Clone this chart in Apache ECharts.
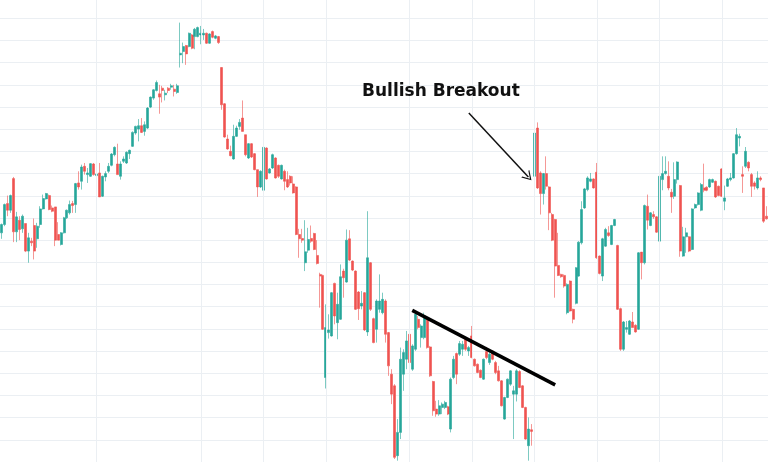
<!DOCTYPE html>
<html>
<head>
<meta charset="utf-8">
<script src="https://cdn.jsdelivr.net/npm/echarts@6/dist/echarts.min.js"></script>
<style>
html,body{margin:0;padding:0;background:#ffffff;}
#chart{width:768px;height:462px;}
</style>
</head>
<body>
<div id="chart"></div>
<script>
// price units: 1 grid step = 66.69
const opens = [
689,714,777,757,852,692,727,701,717,634,664,711,671,714,761,791,801,764,767,684,
654,689,734,749,777,774,839,844,889,864,859,896,861,869,799,857,874,892,924,896,
859,904,899,927,949,989,1001,1011,994,1004,1067,1094,1117,1107,1124,1104,1124,1127,1121,1111,
1224,1234,1252,1249,1284,1279,1279,1284,1284,1289,1259,1294,1274,1279,1186,1077,971,934,911,979,
1009,1034,984,914,957,927,879,827,817,944,869,884,914,892,851,874,849,859,836,827,
684,672,599,637,672,687,621,564,561,254,389,379,537,419,429,574,541,671,604,574,
511,469,509,391,599,431,399,459,449,484,389,264,229,19,89,264,309,384,279,339,
429,374,374,429,346,242,159,144,164,164,166,99,254,326,324,339,369,334,379,309,
294,276,249,332,299,334,299,274,244,129,194,234,204,204,272,229,164,49,97,859,
1004,869,807,867,827,744,729,591,564,561,449,544,459,477,559,659,764,819,844,851,
871,619,559,649,689,654,711,651,461,339,399,384,421,411,399,631,599,769,711,744,
737,664,849,867,859,811,799,849,831,619,677,677,639,764,774,757,824,826,827,841,
844,829,881,784,829,849,854,927,974,864,889,901,864,839,824,854,824,739
];
const closes = [
714,774,757,801,692,737,699,739,634,674,659,634,709,761,792,807,759,754,667,667,
689,734,757,774,771,837,827,887,874,869,897,864,866,797,859,867,889,926,946,864,
896,911,931,937,991,1009,1011,991,1014,1064,1097,1119,1141,1097,1117,1109,1117,1131,1114,1131,
1229,1249,1227,1289,1244,1301,1306,1289,1289,1259,1287,1277,1281,1261,1074,977,941,921,979,1004,
1021,994,924,957,917,879,827,874,946,851,881,924,854,859,892,844,827,839,809,684,
671,667,632,669,664,639,597,559,399,404,397,509,439,474,557,554,667,607,577,459,
461,477,397,614,459,359,484,484,489,384,289,204,14,89,309,329,364,299,349,444,
404,409,439,344,259,154,144,169,174,179,144,249,309,264,356,354,339,344,314,289,
269,254,309,314,324,309,269,244,169,194,249,274,214,274,224,164,69,99,92,989,
824,807,867,829,749,667,589,561,557,529,534,454,429,584,661,759,821,854,851,824,
614,567,671,699,681,711,729,459,339,421,404,424,404,391,629,599,771,727,749,737,
691,859,867,874,824,797,849,902,634,677,689,634,761,774,809,834,817,817,849,849,
797,801,799,794,851,854,927,984,979,859,934,884,829,829,854,849,724,731
];
const lows = [
671,709,739,749,661,661,667,689,631,599,649,609,644,704,759,789,757,751,649,667,
651,687,731,744,749,749,819,819,864,839,857,861,811,797,797,844,869,889,919,864,
849,899,896,911,947,984,964,989,981,1001,1064,1089,1114,1047,1081,1087,1109,1119,1099,1107,
1186,1199,1194,1247,1241,1241,1277,1256,1269,1257,1257,1274,1271,1257,1059,975,939,919,909,977,
999,994,919,911,914,877,797,824,797,849,867,881,852,854,849,817,824,831,807,682,
614,659,574,629,659,637,594,464,397,221,371,377,414,369,427,494,539,604,574,457,
427,459,394,379,454,357,359,449,444,359,259,174,9,4,69,214,279,294,274,334,
399,344,369,341,256,139,136,139,144,159,141,89,249,234,319,319,334,319,312,287,
267,252,247,309,292,306,264,242,167,127,192,229,69,182,222,162,67,4,49,627,
821,744,774,819,697,664,494,559,554,524,444,452,417,474,557,654,761,814,841,822,
611,564,544,647,677,652,709,457,334,334,389,382,404,389,397,549,594,699,709,731,
689,634,817,864,817,749,791,837,617,617,629,631,637,761,771,754,811,814,824,839,
794,799,797,757,827,844,852,924,949,809,884,874,797,819,819,844,719,729
];
const highs = [
717,777,801,804,857,752,739,744,717,689,674,732,719,769,804,809,804,771,767,721,
691,737,759,786,785,839,874,894,899,884,899,899,919,899,861,874,899,929,949,957,
904,919,934,939,994,1011,1031,1034,1024,1067,1099,1121,1147,1134,1131,1119,1127,1137,1134,1137,
1321,1261,1254,1291,1287,1305,1309,1311,1302,1291,1289,1297,1284,1281,1187,1079,984,951,1014,1011,
1031,1087,984,959,959,929,879,877,981,946,884,927,916,894,894,879,874,862,859,829,
701,701,727,704,711,689,667,569,563,474,444,511,539,509,594,581,699,697,606,576,
514,514,511,754,601,434,489,564,509,489,391,279,234,129,344,339,394,414,354,449,
439,414,449,431,349,244,184,186,179,184,169,254,319,329,364,364,376,349,409,311,
296,278,311,346,329,336,304,289,246,196,251,276,229,279,276,231,166,134,114,1021,
1021,874,869,919,829,749,731,689,566,564,537,546,461,586,664,784,824,859,869,853,
899,621,674,704,709,713,731,653,464,424,424,427,451,414,631,631,774,804,751,754,
739,869,919,919,904,821,901,904,833,707,704,679,763,777,811,839,897,829,852,852,
846,831,883,831,854,869,929,1004,987,889,947,904,869,844,874,859,824,769
];
// category indexes where the time grid lines fall
const timeGridIdx = [32, 67, 88, 109, 137, 158, 179, 200, 221, 242];
// annotations: [categoryIndex, price]
const trendStart = [138, 456];
const trendEnd = [186, 232];
const arrowStart = [157, 1049];
const arrowEnd = [177, 857];
const annotationText = 'Bullish Breakout';

const categories = opens.map((_, i) => 'D' + (i + 1));
const ohlc = opens.map((o, i) => [o, closes[i], lows[i], highs[i]]);

const chart = echarts.init(document.getElementById('chart'), null, {renderer: 'canvas'});
chart.setOption({
  animation: false,
  backgroundColor: '#ffffff',
  grid: {left: 0, right: 0, top: 0, bottom: -1},
  xAxis: {
    type: 'category',
    data: categories,
    boundaryGap: true,
    axisLine: {show: false},
    axisTick: {show: false},
    axisLabel: {show: false},
    splitLine: {show: false}
  },
  yAxis: {
    type: 'value',
    min: 0,
    max: 1389,
    interval: 66.69,
    axisLine: {show: false},
    axisTick: {show: false},
    axisLabel: {show: false},
    splitLine: {show: true, showMaxLine: false, lineStyle: {color: '#ebeff3', width: 1}}
  },
  graphic: [{
    type: 'text',
    left: 362,
    top: 83,
    z: 100,
    style: {text: annotationText, font: 'bold 17px "DejaVu Sans"', fill: '#111111'}
  }],
  series: [
    {
      type: 'line',
      data: [],
      z: 0,
      silent: true,
      markLine: {
        silent: true,
        symbol: ['none', 'none'],
        label: {show: false},
        lineStyle: {color: '#ebeff3', width: 1, type: 'solid'},
        data: timeGridIdx.map(i => ({xAxis: i}))
      }
    },
    {
      type: 'candlestick',
      z: 2,
      data: ohlc,
      barWidth: 2.5,
      itemStyle: {
        color: '#26a69a',
        color0: '#ef5350',
        borderColor: 'rgba(38,166,154,0.6)',
        borderColor0: 'rgba(239,83,80,0.6)',
        borderWidth: 1
      },
      emphasis: {disabled: true},
      markLine: {
        silent: true,
        animation: false,
        label: {show: false},
        data: [
          [
            {coord: trendStart, symbol: 'none', lineStyle: {color: '#000', width: 3.5, type: 'solid'}},
            {coord: trendEnd, symbol: 'none'}
          ],
          [
            {coord: arrowStart, symbol: 'none', lineStyle: {color: '#111', width: 1.5, type: 'solid'}},
            {coord: arrowEnd, symbol: 'path://M10,0 L20,15 L17.6,15 L10,3.6 L2.4,15 L0,15 Z', symbolSize: [11, 9]}
          ]
        ]
      }
    }
  ]
});
</script>
</body>
</html>
